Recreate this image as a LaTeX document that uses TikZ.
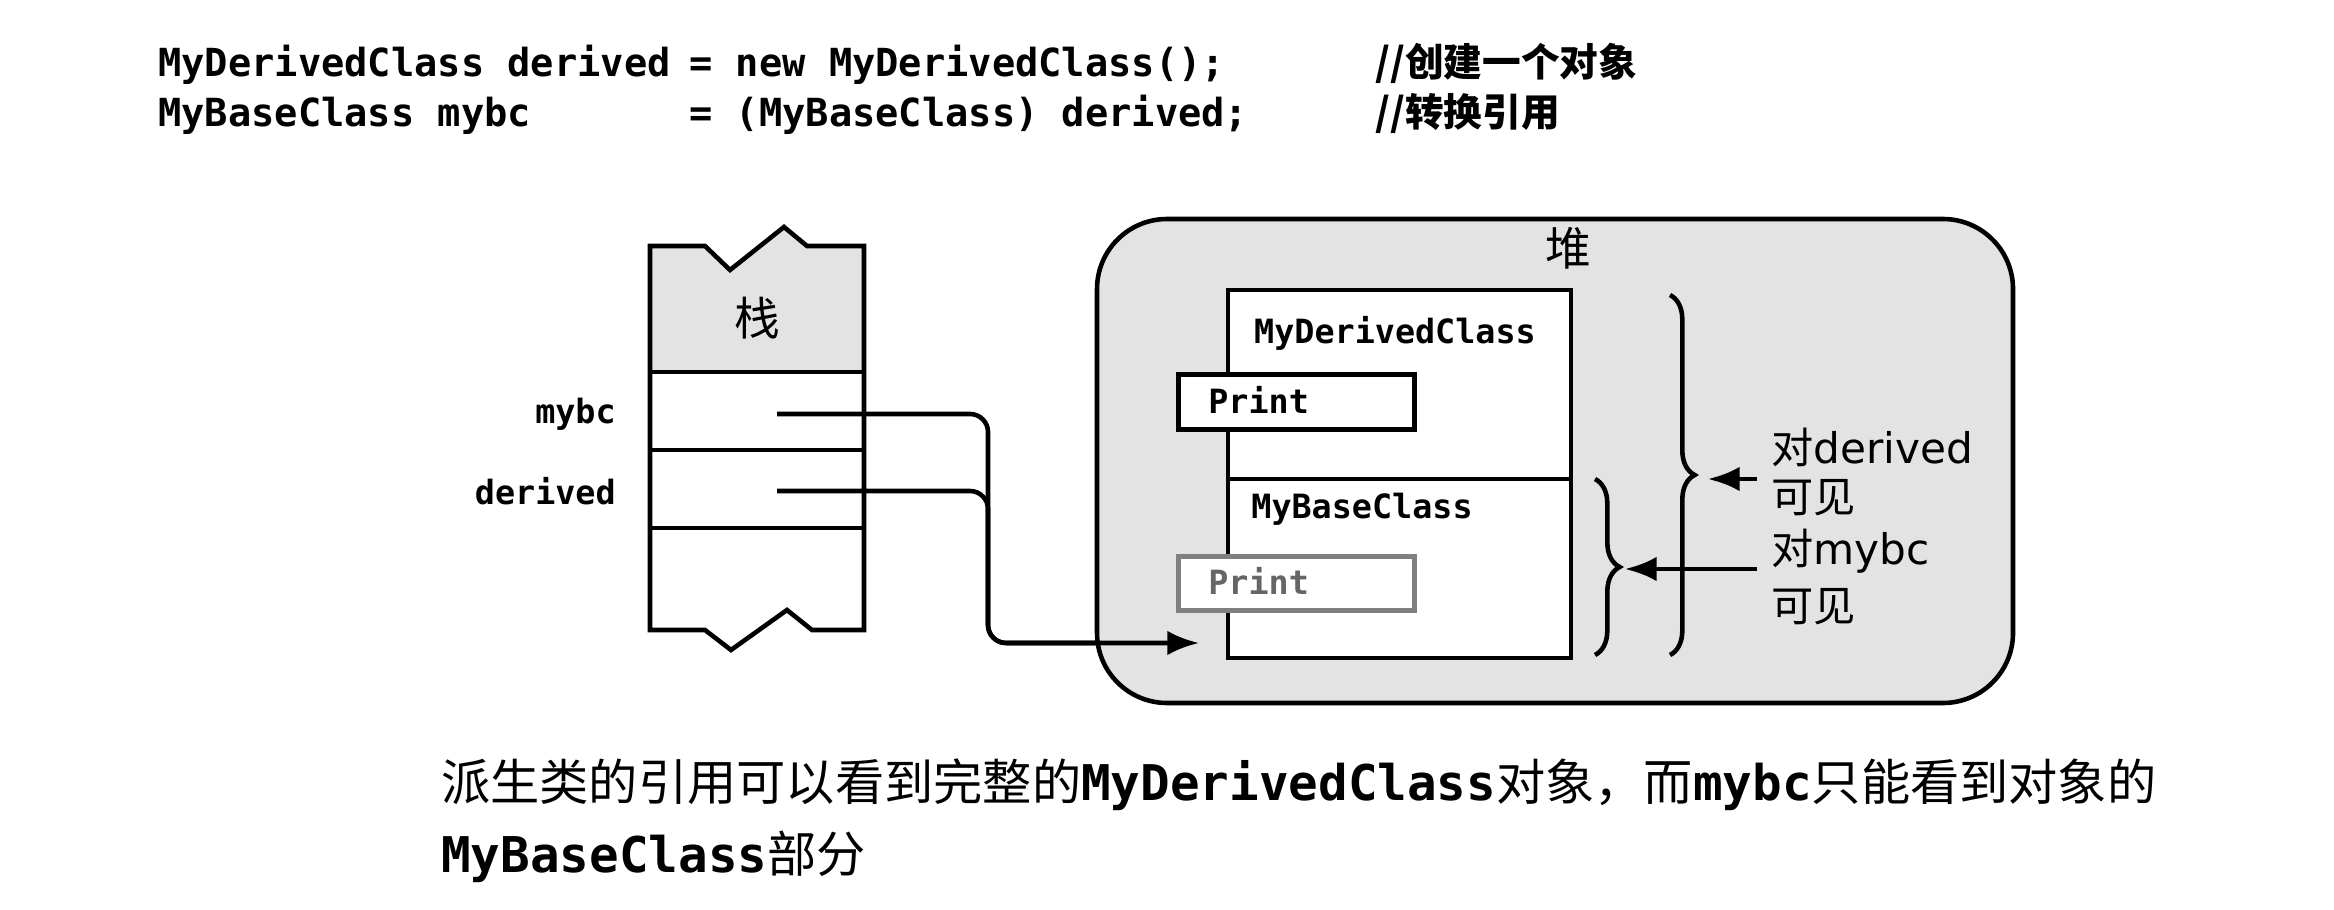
\documentclass[tikz,border=0pt]{standalone}
\usepackage{fontspec}
\setmainfont{DejaVu Sans}
\setmonofont{DejaVu Sans Mono}
\newfontfamily\cjk{Noto Sans CJK SC}
\usetikzlibrary{arrows.meta,decorations.pathreplacing}
\begin{document}
\begin{tikzpicture}[x=0.01cm,y=-0.01cm,line width=1.3pt,
  code/.style={anchor=base west,inner sep=0,font=\ttfamily\bfseries\fontsize{11}{13}\selectfont},
  cmt/.style={anchor=base west,inner sep=0,font=\cjk\bfseries\fontsize{11}{13}\selectfont},
  mono/.style={inner sep=0,font=\ttfamily\bfseries\fontsize{9.5}{11}\selectfont},
  lbl/.style={anchor=west,inner sep=0,font=\cjk\fontsize{12}{14}\selectfont},
  arr/.style={-{Latex[length=9pt,width=7pt]}},
  brc/.style={decorate,decoration={brace,amplitude=7pt}}]
\useasboundingbox (0,0) rectangle (2334,910);
% code
\node[code] (c1) at (156,77) {MyDerivedClass derived};
\node[code] (c1b) at (687,77) {= new MyDerivedClass();};
\node[cmt] (k1) at (1373,77) {//创建一个对象};
\node[code] (c2) at (156,127) {MyBaseClass mybc};
\node[code] (c2b) at (687,127) {= (MyBaseClass) derived;};
\node[cmt] (k2) at (1373,127) {//转换引用};
% heap
\draw[fill=gray!22,rounded corners=0.7cm] (1097,219) rectangle (2013,703);
\node[font=\cjk\fontsize{13}{15}\selectfont] (heap) at (1568,248) {堆};
% stack
\fill[gray!22] (650,246) -- (705,246) -- (730,270) -- (784,227) -- (807,246) -- (864,246) -- (864,372) -- (650,372) -- cycle;
\draw (650,246) -- (705,246) -- (730,270) -- (784,227) -- (807,246) -- (864,246) -- (864,630)
  -- (812,630) -- (787,610) -- (731,650) -- (705,630) -- (650,630) -- cycle;
\draw (650,372) -- (864,372) (650,450) -- (864,450) (650,528) -- (864,528);
\node[font=\cjk\fontsize{13}{15}\selectfont] (stk) at (757,318) {栈};
\node[mono,anchor=east] (lm) at (618,414) {mybc};
\node[mono,anchor=east] (ld) at (618,491) {derived};
% object
\draw[fill=white] (1228,290) rectangle (1571,658);
\draw (1228,479) -- (1571,479);
\node[mono] (nd) at (1395,333) {MyDerivedClass};
\node[mono] (nb) at (1362,509) {MyBaseClass};
\node[draw,fill=white,minimum width=2.36cm,minimum height=0.55cm,anchor=north west,inner sep=0] (p1) at (1176,372) {};
\node[mono,anchor=west] at (1206,400) {Print};
\node[draw=gray,fill=white,minimum width=2.36cm,minimum height=0.54cm,anchor=north west,inner sep=0] (p2) at (1176,554) {};
\node[mono,anchor=west,text=gray!80!black] at (1206,581) {Print};
% pointers
\coordinate (sm) at (777,414);
\coordinate (sd) at (777,491);
\coordinate (tgt) at (1199,643);
\draw[rounded corners=0.18cm] (sm) -- (988,414) -- (988,643) -- (1100,643);
\draw[arr,rounded corners=0.18cm] (sd) -- (988,491) -- (988,643) -- (tgt);
% braces
\draw[brc] (1670,295) -- (1670,655);
\draw[brc] (1595,479) -- (1595,655);
\node[lbl] (t1) at (1769,447) {对\fontspec{DejaVu Sans}derived};
\node[lbl] (t2) at (1769,498) {可见};
\node[lbl] (t3) at (1769,551) {对\fontspec{DejaVu Sans}mybc};
\node[lbl] (t4) at (1769,607) {可见};
\coordinate (b1) at (1708,479);
\coordinate (b2) at (1625,569);
\draw[arr] (1757,479) -- (b1);
\draw[arr] (1757,569) -- (b2);
% caption
\node[anchor=base west,inner sep=0,font=\cjk\fontsize{14}{16}\selectfont] (cap1) at (439,800) {派生类的引用可以看到完整的{\ttfamily\bfseries MyDerivedClass}对象，而{\ttfamily\bfseries mybc}只能看到对象的};
\node[anchor=base west,inner sep=0,font=\cjk\fontsize{14}{16}\selectfont] (cap2) at (439,872) {{\ttfamily\bfseries MyBaseClass}部分};
\end{tikzpicture}
\end{document}
